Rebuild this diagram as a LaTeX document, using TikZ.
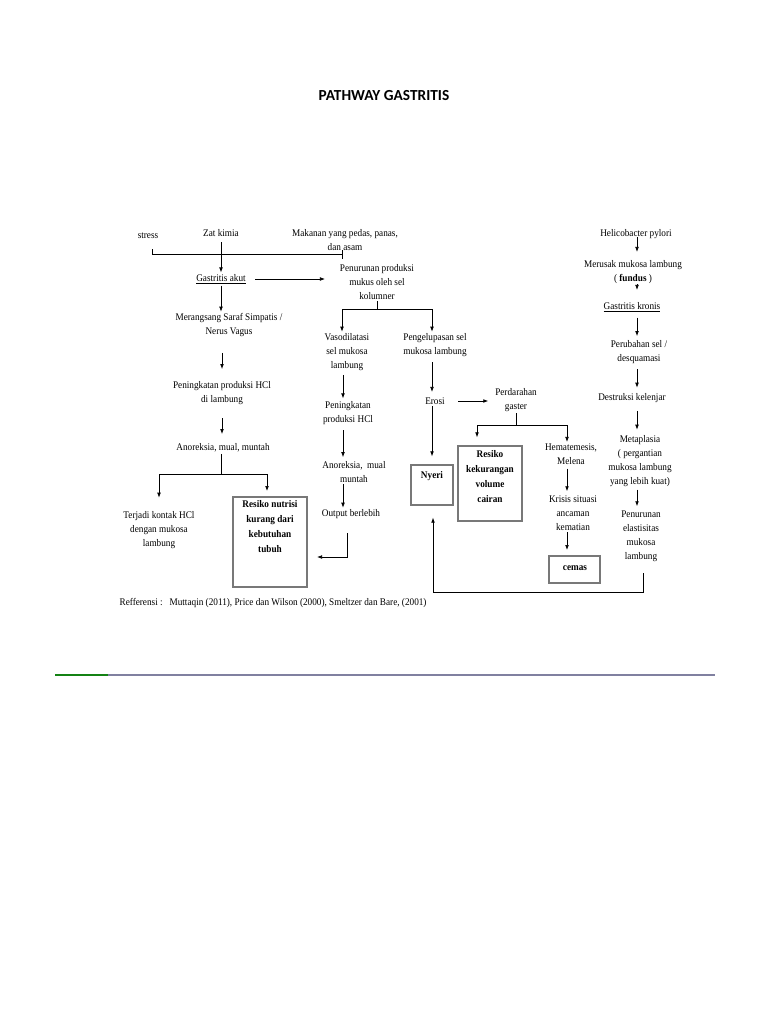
\documentclass[tikz,border=0pt]{standalone}
\usepackage{fontspec}
\setmainfont{Liberation Serif}[FakeStretch=0.91]
\newfontfamily\titlefont{Carlito}
\usetikzlibrary{arrows.meta}
\definecolor{rulegreen}{RGB}{20,130,20}
\definecolor{rulegray}{RGB}{128,128,160}
\definecolor{boxgray}{RGB}{120,120,120}
\begin{document}
\begin{tikzpicture}[x=0.75pt,y=-0.75pt,
  t/.style={font=\fontsize{7.6}{10.5}\selectfont, align=center, inner sep=1pt},
  tb/.style={align=center, inner sep=1pt, font=\fontsize{7.6}{11.25}\selectfont\bfseries},
  arr/.style={-{Latex[length=3.8pt,width=2.8pt]}, line width=0.55pt},
  ln/.style={line width=0.55pt},
  bx/.style={draw=boxgray, line width=0.9pt, inner sep=0pt}
]
\useasboundingbox (0,0) rectangle (768,1024);
\fill[white] (0,0) rectangle (768,1024);

% title
\node[font=\titlefont\bfseries\fontsize{11.5}{13}\selectfont, inner sep=0pt] (title) at (384,96) {PATHWAY GASTRITIS};

% left column
\node[t] (stress) at (148,236) {stress};
\node[t] (zat) at (221,233) {Zat kimia};
\node[t] (makanan) at (345,240) {Makanan yang pedas, panas,\\dan asam};
\node[t] (akut) at (221,279) {\underline{Gastritis akut}};
\node[t] (penurunan) at (377,282) {Penurunan produksi\\mukus oleh sel\\kolumner};
\node[t] (merangsang) at (229,325) {Merangsang Saraf Simpatis /\\Nerus Vagus};
\node[t] (hcla) at (222,393) {Peningkatan produksi HCl\\di lambung};
\node[t] (anora) at (223,448) {Anoreksia, mual, muntah};
\node[t] (kontak) at (159,530) {Terjadi kontak HCl\\dengan mukosa\\lambung};
\node[bx, minimum width=55.5pt, minimum height=67.5pt] (nutri) at (270,542) {};
\node[tb, anchor=north] (nutrit) at (270,499) {Resiko nutrisi\\kurang dari\\kebutuhan\\tubuh};

% middle column
\node[t] (vaso) at (347,352) {Vasodilatasi\\sel mukosa\\lambung};
\node[t] (hclb) at (348,413) {Peningkatan\\produksi HCl};
\node[t] (anorb) at (354,472) {Anoreksia,\ \ mual\\muntah};
\node[t] (output) at (351,514) {Output berlebih};
\coordinate (outb) at (347,533);
\coordinate (outc) at (317,557);

\node[t] (peng) at (435,345) {Pengelupasan sel\\mukosa lambung};
\node[t] (erosi) at (435,401) {Erosi};
\node[bx, minimum width=31.5pt, minimum height=30pt] (nyeri) at (432,485) {};
\node[tb] (nyerit) at (432,476) {Nyeri};

\node[t] (perdarahan) at (516,400) {Perdarahan\\gaster};
\node[bx, minimum width=48pt, minimum height=56.25pt] (volume) at (490,483.5) {};
\node[tb, anchor=north] (volumet) at (490,449) {Resiko\\kekurangan\\volume\\cairan};
\node[t] (hemat) at (571,454) {Hematemesis,\\Melena};
\node[t] (krisis) at (573,513) {Krisis situasi\\ancaman\\kematian};
\node[bx, minimum width=38.25pt, minimum height=20.25pt] (cemas) at (574.5,569.5) {};
\node[tb] (cemast) at (575,568) {cemas};

% right column
\node[t] (heli) at (636,234) {Helicobacter pylori};
\node[t] (merusak) at (633,272) {Merusak mukosa lambung\\( \textbf{fundus} )};
\node[t] (kronis) at (632,307) {\underline{Gastritis kronis}};
\node[t] (perubahan) at (639,352) {Perubahan sel /\\desquamasi};
\node[t] (destruksi) at (632,398) {Destruksi kelenjar};
\node[t] (meta) at (640,461) {Metaplasia\\( pergantian\\mukosa lambung\\yang lebih kuat)};
\node[t] (elast) at (641,536) {Penurunan\\elastisitas\\mukosa\\lambung};

% reference
\node[t, anchor=west] (ref) at (118,603) {Refferensi :\ \ \ Muttaqin (2011), Price dan Wilson (2000), Smeltzer dan Bare, (2001)};

% ---- connectors ----
% top join line
\coordinate (j1) at (152,249);
\coordinate (j2) at (152,254);
\coordinate (j3) at (342,254);
\coordinate (j4) at (342,250);
\coordinate (j5) at (342,259);
\draw[ln] (j1) -- (j2) -- (j3);
\draw[ln] (j4) -- (j5);
\draw[arr] (221,242) -- (akut.north);
\draw[arr, shorten <=6pt, shorten >=10pt] (akut) -- (akut -| penurunan.west);
\draw[arr] (akut.south) -- (akut.south |- merangsang.north);
\draw[arr, shorten <=11pt, shorten >=8pt] (merangsang.south -| hcla) -- (hcla.north);
\draw[arr, shorten <=9pt, shorten >=6pt] (hcla.south) -- (hcla.south |- anora.north);

% split from penurunan
\coordinate (pa) at (377,309);
\coordinate (pl) at (342,309);
\coordinate (pr) at (432,309);
\draw[ln] (penurunan.south) -- (pa);
\draw[ln] (pl) -- (pr);
\draw[arr] (pl) -- (pl |- vaso.north);
\draw[arr] (pr) -- (pr |- peng.north);

% split from anoreksia
\coordinate (aa) at (221,474);
\coordinate (al) at (159,474);
\coordinate (ar) at (267,474);
\draw[ln] (anora.south -| aa) -- (aa);
\draw[ln] (al) -- (ar);
\draw[arr, shorten >=9pt] (al) -- (al |- kontak.north);
\draw[arr, shorten >=4pt] (ar) -- (ar |- nutri.north);

% middle chain
\draw[arr, shorten <=2pt, shorten >=1pt] (vaso.south -| 343,0) -- (hclb.north -| 343,0);
\draw[arr, shorten <=3pt, shorten >=2pt] (hclb.south -| 343,0) -- (anorb.north -| 343,0);
\draw[arr] (anorb.south -| 343,0) -- (output.north -| 343,0);
\draw[arr] (outb) |- (outc);

\draw[arr, shorten <=3pt, shorten >=3pt] (peng.south -| 432,0) -- (erosi.north -| 432,0);
\draw[arr, shorten >=6pt] (erosi.south -| 432,0) -- (nyeri.north);
\draw[arr, shorten <=9pt, shorten >=4pt] (erosi) -- (erosi -| perdarahan.west);

% split from perdarahan
\coordinate (da) at (516,425);
\coordinate (dl) at (477,425);
\coordinate (dr) at (567,425);
\draw[ln] (perdarahan.south) -- (da);
\draw[ln] (dl) -- (dr);
\draw[arr, shorten >=6pt] (dl) -- (dl |- volume.north);
\draw[arr] (dr) -- (dr |- hemat.north);
\draw[arr, shorten <=2pt, shorten >=2pt] (hemat.south -| 567,0) -- (krisis.north -| 567,0);
\draw[arr, shorten >=4pt] (krisis.south -| 567,0) -- (cemas.north -| 567,0);

% right chain
\draw[arr] (637,237) -- (637,252);
\draw[arr] (637,284) -- (637,290);
\draw[arr, shorten <=3pt, shorten >=2pt] (kronis.south -| 637,0) -- (perubahan.north -| 637,0);
\draw[arr, shorten <=3pt, shorten >=3pt] (perubahan.south -| 637,0) -- (destruksi.north -| 637,0);
\draw[arr, shorten <=5pt, shorten >=3pt] (destruksi.south -| 637,0) -- (meta.north -| 637,0);
\draw[arr, shorten <=1pt, shorten >=2pt] (meta.south -| 637,0) -- (elast.north -| 637,0);

% loop back to nyeri
\coordinate (lb1) at (643,573);
\coordinate (lb2) at (643,592);
\coordinate (lb3) at (433,592);
\draw[arr, shorten >=9pt] (lb1) -- (lb2) -- (lb3) -- (nyeri.south -| lb3);

% bottom rule
\draw[rulegreen, line width=1.5pt] (55,675) -- (108,675);
\draw[rulegray, line width=1.5pt] (108,675) -- (715,675);
\end{tikzpicture}
\end{document}
